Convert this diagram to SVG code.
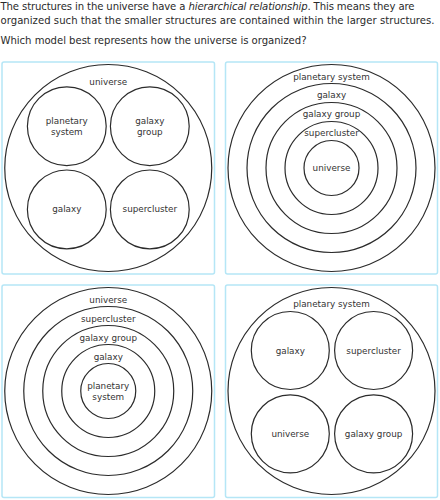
<svg xmlns="http://www.w3.org/2000/svg" width="440" height="500" viewBox="0 0 440 500">
<style>
.hdr{font-family:"DejaVu Sans",Verdana,sans-serif;font-size:10.1px;fill:#2a2a2a}
.lbl{font-family:"DejaVu Sans",Verdana,sans-serif;font-size:8.8px;fill:#333;text-anchor:middle}
.panel{fill:#fff;stroke:#b5e6f6;stroke-width:1.5}
.c{fill:none;stroke:#2b2b2b;stroke-width:1.2}
</style>
<rect width="440" height="500" fill="#fff"/>
<g id="question">
<text class="hdr" x="0.5" y="10" textLength="414" lengthAdjust="spacing">The structures in the universe have a <tspan font-style="italic">hierarchical relationship</tspan>. This means they are</text>
<text class="hdr" x="0.5" y="23.5" textLength="434" lengthAdjust="spacing">organized such that the smaller structures are contained within the larger structures.</text>
<text class="hdr" x="0.5" y="44" textLength="306" lengthAdjust="spacing">Which model best represents how the universe is organized?</text>
</g>
<g id="panel-a">
<rect class="panel" x="2" y="62" width="212.5" height="212" rx="2"/>
<circle class="c" cx="108.25" cy="168" r="103.5"/>
<text class="lbl" x="108.25" y="85">universe</text>
<circle class="c" cx="66.8" cy="126.3" r="39.4"/>
<text class="lbl" x="66.8" y="123.5">planetary</text>
<text class="lbl" x="66.8" y="134.5">system</text>
<circle class="c" cx="149.8" cy="126.3" r="39.4"/>
<text class="lbl" x="149.8" y="123.5">galaxy</text>
<text class="lbl" x="149.8" y="134.5">group</text>
<circle class="c" cx="66.8" cy="209.4" r="39.4"/>
<text class="lbl" x="66.8" y="212.4">galaxy</text>
<circle class="c" cx="149.8" cy="209.4" r="39.4"/>
<text class="lbl" x="149.8" y="212.4">supercluster</text>
</g>
<g id="panel-b">
<rect class="panel" x="225.5" y="62" width="212" height="212" rx="2"/>
<circle class="c" cx="331.5" cy="168" r="103.5"/>
<circle class="c" cx="331.5" cy="168" r="84.5"/>
<circle class="c" cx="331.5" cy="168" r="65.5"/>
<circle class="c" cx="331.5" cy="168" r="46.5"/>
<circle class="c" cx="331.5" cy="168" r="27.5"/>
<text class="lbl" x="331.5" y="79.5">planetary system</text>
<text class="lbl" x="331.5" y="97.5">galaxy</text>
<text class="lbl" x="331.5" y="117">galaxy group</text>
<text class="lbl" x="331.5" y="136">supercluster</text>
<text class="lbl" x="331.5" y="171">universe</text>
</g>
<g id="panel-c">
<rect class="panel" x="2" y="285" width="212.5" height="212.5" rx="2"/>
<circle class="c" cx="108.25" cy="391" r="103.5"/>
<circle class="c" cx="108.25" cy="391" r="84.5"/>
<circle class="c" cx="108.25" cy="391" r="65.5"/>
<circle class="c" cx="108.25" cy="391" r="46.5"/>
<circle class="c" cx="108.25" cy="391" r="27.5"/>
<text class="lbl" x="108.25" y="302.5">universe</text>
<text class="lbl" x="108.25" y="321.5">supercluster</text>
<text class="lbl" x="108.25" y="340.5">galaxy group</text>
<text class="lbl" x="108.25" y="359.5">galaxy</text>
<text class="lbl" x="108.25" y="389">planetary</text>
<text class="lbl" x="108.25" y="400">system</text>
</g>
<g id="panel-d">
<rect class="panel" x="225.5" y="285" width="212" height="212.5" rx="2"/>
<circle class="c" cx="331.5" cy="391" r="103.5"/>
<text class="lbl" x="331.5" y="307">planetary system</text>
<circle class="c" cx="290.3" cy="350.5" r="39"/>
<text class="lbl" x="290.3" y="353.5">galaxy</text>
<circle class="c" cx="373.6" cy="350.5" r="39"/>
<text class="lbl" x="373.6" y="353.5">supercluster</text>
<circle class="c" cx="290.3" cy="433.8" r="39"/>
<text class="lbl" x="290.3" y="436.8">universe</text>
<circle class="c" cx="373.6" cy="433.8" r="39"/>
<text class="lbl" x="373.6" y="436.8">galaxy group</text>
</g>
</svg>
